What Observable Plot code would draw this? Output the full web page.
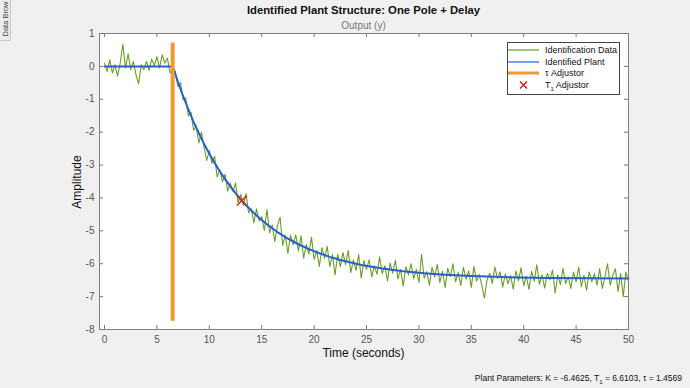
<!DOCTYPE html>
<html><head><meta charset="utf-8">
<script src="https://cdn.jsdelivr.net/npm/d3@7"></script>
<script src="https://cdn.jsdelivr.net/npm/@observablehq/plot@0.6"></script>
<style>
body{margin:0;background:#f0f0f0;font-family:"Liberation Sans",Arial,sans-serif;}
#wrap{position:relative;width:690px;height:388px;overflow:hidden;background:#f0f0f0;}
#wrap svg{position:absolute;left:0;top:0;}
.abs{position:absolute;white-space:nowrap;}
#title{left:0;width:727px;top:4px;text-align:center;font-weight:bold;font-size:11.3px;color:#111;}
#subtitle{left:0;width:727px;top:20px;text-align:center;font-size:10px;color:#777;}
#xlabel{left:0;width:727px;top:346px;text-align:center;font-size:12px;color:#111;}
#ylabel{left:77px;top:182px;font-size:12px;color:#111;transform:translate(-50%,-50%) rotate(-90deg);}
#params{right:8px;top:373px;font-size:8.5px;color:#111;}
#tab{left:0;top:0;width:10px;height:40px;border-right:1px solid #c8c8c8;border-bottom:1px solid #c8c8c8;background:#ececec;}
#tabtext{left:5px;top:19px;font-size:7.5px;color:#444;transform:translate(-50%,-50%) rotate(-90deg);}
#legend{left:507px;top:42px;width:111px;height:51px;background:#fff;border:1px solid #444;}
.row{position:absolute;left:0;height:12px;width:111px;}
.row svg{position:absolute;left:4px;top:0;}
.row span{position:absolute;left:37px;top:0;font-size:9px;line-height:12px;color:#111;}
</style></head><body><div id="wrap"></div>
<script>
// Identification data: amplitude sampled every 0.25 s from t = 0 to 50 s
const sampleStep = 0.25;
const dataAmplitude = [
  0.1, -0.15, 0.2, -0.2,
  0.05, -0.3, 0.1, 0.67,
  -0.05, 0.38, -0.1, 0.15,
  -0.25, -0.53, 0.05, -0.1,
  0.15, -0.12, 0.22, 0.02,
  0.3, -0.05, 0.35, 0.1,
  0.25, -0.2, -0.1, -0.14,
  -0.62, -0.49, -1.01, -0.96,
  -1.51, -1.40, -1.94, -1.81,
  -2.33, -2.00, -2.46, -2.86,
  -2.56, -2.95, -2.73, -3.36,
  -3.14, -3.51, -3.28, -3.79,
  -3.55, -3.80, -3.55, -4.15,
  -3.89, -4.23, -3.87, -4.45,
  -4.33, -4.76, -4.33, -4.70,
  -4.57, -4.99, -4.35, -5.06,
  -4.82, -5.33, -4.84, -4.59,
  -5.44, -5.14, -5.69, -5.13,
  -5.42, -5.12, -5.61, -5.15,
  -5.83, -5.42, -5.71, -5.19,
  -5.87, -5.60, -6.08, -5.51,
  -5.84, -5.47, -6.09, -5.72,
  -6.34, -5.71, -6.09, -5.66,
  -6.03, -5.60, -6.27, -5.88,
  -6.20, -5.72, -6.44, -5.90,
  -6.17, -5.88, -6.40, -6.06,
  -6.32, -5.79, -6.30, -6.06,
  -6.52, -5.98, -6.29, -5.90,
  -6.46, -6.17, -6.68, -6.09,
  -6.34, -6.00, -6.46, -6.17,
  -6.57, -5.72, -6.44, -6.24,
  -6.65, -6.11, -6.41, -6.02,
  -6.57, -6.23, -6.73, -6.14,
  -6.39, -6.00, -6.55, -6.26,
  -6.66, -6.11, -6.47, -6.22,
  -6.72, -6.08, -6.53, -6.33,
  -6.64, -7.05, -6.49, -6.29,
  -6.60, -6.10, -6.45, -6.25,
  -6.71, -6.31, -6.61, -6.36,
  -6.77, -6.22, -6.52, -6.12,
  -6.67, -6.38, -6.78, -6.23,
  -6.53, -6.03, -6.63, -6.34,
  -6.74, -6.29, -6.49, -6.19,
  -6.89, -6.34, -6.64, -6.14,
  -6.60, -6.40, -6.75, -6.25,
  -6.55, -6.10, -6.70, -6.35,
  -6.80, -6.25, -6.55, -6.30,
  -6.65, -6.15, -6.75, -6.40,
  -6.00, -6.65, -6.35, -6.15,
  -6.85, -6.30, -7.00, -6.25,
  -6.55
];
// Identified plant response
const plantTime = [0, 6.5, 7, 7.5, 8, 8.5, 9, 9.5, 10, 10.5, 11, 11.5, 12, 12.5, 13, 13.5,
  14.5, 15.5, 16.5, 17.5, 18.5, 19.5, 20.5, 21.5, 22.5, 24.5, 26.5, 28.5, 30.5, 32.5, 34.5, 36.5,
  39.5, 42.5, 46.5, 50];
const plantAmplitude = [0, 0, -0.470, -0.907, -1.311, -1.687, -2.034, -2.357, -2.656, -2.933, -3.190, -3.428, -3.649, -3.854, -4.044, -4.220,
  -4.534, -4.804, -5.037, -5.236, -5.408, -5.556, -5.683, -5.792, -5.886, -6.036, -6.147, -6.228, -6.289, -6.333, -6.367, -6.391,
  -6.416, -6.432, -6.445, -6.451];
// Adjustors
const tauTime = [6.5];
const tauTop = [0.7];
const tauBottom = [-7.75];
const t1Time = [13.1];
const t1Amplitude = [-4.08];
// Axes
const xTicks = [0, 5, 10, 15, 20, 25, 30, 35, 40, 45, 50];
const yTicks = [1, 0, -1, -2, -3, -4, -5, -6, -7, -8];
const legendLabels = ["Identification Data", "Identified Plant", "\u03c4 Adjustor", "T1 Adjustor"];

const W = 690, H = 388, mL = 99, mR = 62, mT = 33, mB = 59;
const pw = W - mL - mR, ph = H - mT - mB;
const green = "#6a9e28", blue = "#2660d0", orange = "#ef9a2e", red = "#e0201a";

const dataRows = dataAmplitude.map((a, i) => ({t: i * sampleStep, a}));
const plantRows = plantTime.map((t, i) => ({t, a: plantAmplitude[i]}));
const tauRows = tauTime.map((t, i) => ({t, y1: tauTop[i], y2: tauBottom[i]}));
const t1Rows = t1Time.map((t, i) => ({t, a: t1Amplitude[i]}));

const chart = Plot.plot({
  width: W, height: H, marginLeft: mL, marginRight: mR, marginTop: mT, marginBottom: mB,
  style: {background: "transparent", fontFamily: "'Liberation Sans', Arial, sans-serif", fontSize: "10px", color: "#555"},
  x: {domain: [-0.48, 50]},
  y: {domain: [-8, 1]},
  marks: [
    Plot.frame({fill: "white", stroke: null}),
    Plot.line(dataRows, {x: "t", y: "a", stroke: green, strokeWidth: 1.1}),
    Plot.line(plantRows, {x: "t", y: "a", stroke: blue, strokeWidth: 2}),
    Plot.ruleX(tauRows, {x: "t", y1: "y1", y2: "y2", stroke: orange, strokeWidth: 4}),
    Plot.dot(t1Rows, {x: "t", y: "a", symbol: "times", r: 4.5, stroke: red, strokeWidth: 1.5}),
    Plot.tickX(xTicks, {x: d => d, insetTop: ph - 4, stroke: "#777"}),
    Plot.tickX(xTicks, {x: d => d, insetBottom: ph - 4, stroke: "#777"}),
    Plot.tickY(yTicks, {y: d => d, insetRight: pw - 4, stroke: "#777"}),
    Plot.tickY(yTicks, {y: d => d, insetLeft: pw - 4, stroke: "#777"}),
    Plot.axisX(xTicks, {tickSize: 0, tickPadding: 6, label: null, tickFormat: d => String(d), fill: "#555"}),
    Plot.axisY(yTicks, {tickSize: 0, tickPadding: 5, label: null, tickFormat: d => String(d), fill: "#555"}),
    Plot.frame({stroke: "#808080"})
  ]
});

const wrap = document.getElementById("wrap");
wrap.appendChild(chart);

function add(id, html) {
  const d = document.createElement("div");
  d.className = "abs"; d.id = id; d.innerHTML = html;
  wrap.appendChild(d);
  return d;
}
add("tab", "");
add("tabtext", "Data Brow");
add("title", "Identified Plant Structure: One Pole + Delay");
add("subtitle", "Output (y)");
add("xlabel", "Time (seconds)");
add("ylabel", "Amplitude");
add("params", "Plant Parameters: K = -6.4625, T<sub style='font-size:6px'>1</sub> = 6.6103, \u03c4 = 1.4569");

const legend = add("legend", "");
const swatches = [
  `<line x1="0" x2="31" y1="6" y2="6" stroke="${green}" stroke-width="1.2"/>`,
  `<line x1="0" x2="31" y1="6" y2="6" stroke="${blue}" stroke-width="1.2"/>`,
  `<line x1="0" x2="31" y1="6" y2="6" stroke="${orange}" stroke-width="3"/>`,
  `<path d="M12,2.5L19,9.5M19,2.5L12,9.5" stroke="${red}" stroke-width="1.5"/>`
];
const rowTops = [1, 12.5, 24, 35.5];
legendLabels.forEach((lab, i) => {
  const r = document.createElement("div");
  r.className = "row";
  r.style.top = rowTops[i] + "px";
  const text = lab === "T1 Adjustor" ? "T<sub style='font-size:6px'>1</sub> Adjustor" : lab;
  r.innerHTML = `<svg width="32" height="12">${swatches[i]}</svg><span>${text}</span>`;
  legend.appendChild(r);
});
</script>
</body></html>
